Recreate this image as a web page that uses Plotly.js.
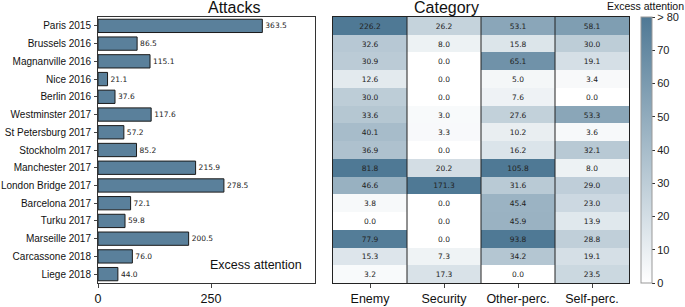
<!DOCTYPE html>
<html><head><meta charset="utf-8">
<script src="https://cdn.plot.ly/plotly-3.0.1.min.js"></script>
<style>body{margin:0;background:#fff}#c{width:685px;height:307px}</style>
</head><body><div id="c"></div>
<script>
const attacks = ["Paris 2015","Brussels 2016","Magnanville 2016","Nice 2016","Berlin 2016","Westminster 2017","St Petersburg 2017","Stockholm 2017","Manchester 2017","London Bridge 2017","Barcelona 2017","Turku 2017","Marseille 2017","Carcassone 2018","Liege 2018"];
const excess = [363.5,86.5,115.1,21.1,37.6,117.6,57.2,85.2,215.9,278.5,72.1,59.8,200.5,76.0,44.0];
const categories = ["Enemy","Security","Other-perc.","Self-perc."];
const enemy    = [226.2,32.6,30.9,12.6,30.0,33.6,40.1,36.9,81.8,46.6,3.8,0.0,77.9,15.3,3.2];
const security = [26.2,8.0,0.0,0.0,0.0,3.0,3.3,0.0,20.2,171.3,0.0,0.0,0.0,7.3,17.3];
const otherPerc= [53.1,15.8,65.1,5.0,7.6,27.6,10.2,16.2,105.8,31.6,45.4,45.9,93.8,34.2,0.0];
const selfPerc = [58.1,30.0,19.1,3.4,0.0,53.3,3.6,32.1,8.0,29.0,23.0,13.9,28.8,19.1,23.5];
const cbTicks = [0,10,20,30,40,50,60,70,80];
const cbLabels = ["0","10","20","30","40","50","60","70","> 80"];

const z = attacks.map((a,i)=>[enemy[i],security[i],otherPerc[i],selfPerc[i]]);

const bar = {
  type:'bar', orientation:'h', x:excess, y:attacks,
  width:0.75,
  marker:{color:'#5a809b', line:{color:'#1a1a1a', width:1}},
  text:excess.map(v=>v.toFixed(1)), textposition:'outside',
  textfont:{family:'DejaVu Sans', size:7.5, color:'#222'},
  cliponaxis:false, xaxis:'x', yaxis:'y', hoverinfo:'none'
};
const heat = {
  type:'heatmap', z:z, x:categories, y:attacks,
  zmin:0, zmax:80,
  colorscale:[[0,'#ffffff'],[1,'#4f7995']],
  texttemplate:'%{z:.1f}', textfont:{family:'DejaVu Sans', size:7.5, color:'#222'},
  xaxis:'x2', yaxis:'y2', hoverinfo:'none',
  colorbar:{x:641/685, xanchor:'left', thickness:11, len:1, lenmode:'fraction', y:0, yanchor:'bottom', ypad:0, xpad:0,
    tickvals:cbTicks, ticktext:cbLabels, ticks:'outside', ticklen:3, tickcolor:'#333',
    outlinecolor:'#999', outlinewidth:1,
    tickfont:{family:'Liberation Sans', size:11, color:'#222'}}
};
const F = {family:'Liberation Sans', size:11, color:'#111'};
const layout = {
  width:685, height:307, margin:{l:0,r:0,t:17,b:24},
  paper_bgcolor:'#fff', plot_bgcolor:'#fff', showlegend:false,
  font:F,
  xaxis:{domain:[98/685,315/685], range:[0,480], tickvals:[0,250], ticks:'outside', ticklen:4,
    showgrid:false, zeroline:false, showline:true, mirror:true, linecolor:'#333', linewidth:1, tickfont:{family:'Liberation Sans', size:12.5, color:'#111'}, fixedrange:true},
  yaxis:{autorange:'reversed', ticks:'outside', ticklen:3, showline:true, mirror:true, linecolor:'#333', linewidth:1,
    showgrid:false, tickfont:{family:'Liberation Sans', size:10, color:'#111'}, ticklabelstandoff:1},
  xaxis2:{domain:[333/685,629/685], anchor:'y2', ticks:'outside', ticklen:4, showgrid:false, zeroline:false,
    showline:true, mirror:true, linecolor:'#222', tickfont:{family:'Liberation Sans', size:12.5, color:'#111'}},
  yaxis2:{anchor:'x2', autorange:'reversed', showticklabels:false, ticks:'', showgrid:false, showline:true, mirror:true, linecolor:'#222'},
  shapes:[0.5,1.5,2.5].map(v=>({type:'line', xref:'x2', yref:'y2 domain', x0:v, x1:v, y0:0, y1:1, line:{color:'#222', width:1}})),
  annotations:[
    {text:'Attacks', xref:'paper', yref:'paper', x:(98+315)/2/685, y:1, yanchor:'bottom', yshift:-1, showarrow:false, font:{family:'Liberation Sans', size:16, color:'#111'}},
    {text:'Category', xref:'paper', yref:'paper', x:(333+629)/2/685, y:1, yanchor:'bottom', yshift:-1, showarrow:false, font:{family:'Liberation Sans', size:16, color:'#111'}},
    {text:'Excess attention', xref:'paper', yref:'paper', x:1, xanchor:'right', y:1, yanchor:'bottom', yshift:4, borderpad:0, showarrow:false, font:{family:'Liberation Sans', size:10.5, color:'#111'}},
    {text:'Excess attention', xref:'x', yref:'y', x:455, xanchor:'right', y:13.5, showarrow:false, font:{family:'Liberation Sans', size:12.5, color:'#111'}}
  ]
};
Plotly.newPlot('c',[bar,heat],layout,{staticPlot:true});
</script></body></html>
